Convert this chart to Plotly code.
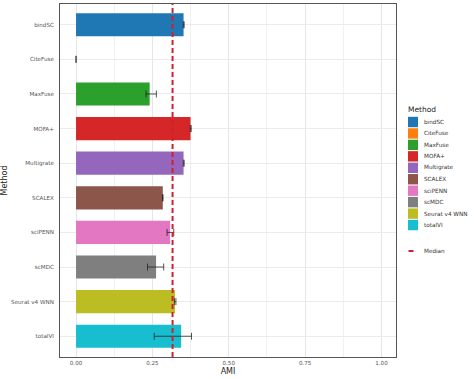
import numpy as np
import plotly.graph_objects as go

methods = ["bindSC", "CiteFuse", "MaxFuse", "MOFA+", "Multigrate", "SCALEX",
           "sciPENN", "scMDC", "Seurat v4 WNN", "totalVI"]
ami = [0.352, 0.0, 0.241, 0.375, 0.352, 0.284, 0.308, 0.262, 0.324, 0.344]
err_low = [0.351, 0.0, 0.229, 0.374, 0.351, 0.283, 0.298, 0.234, 0.322, 0.256]
err_high = [0.354, 0.0, 0.263, 0.377, 0.354, 0.285, 0.320, 0.287, 0.327, 0.378]
colors = ["#1f77b4", "#ff7f0e", "#2ca02c", "#d62728", "#9467bd",
          "#8c564b", "#e377c2", "#7f7f7f", "#bcbd22", "#17becf"]
x_ticks = [0.0, 0.25, 0.5, 0.75, 1.0]
x_ticklabels = ["0.00", "0.25", "0.50", "0.75", "1.00"]

median_val = float(np.median(ami))
FONT = "DejaVu Sans"

fig = go.Figure()
for m, v, lo, hi, c in zip(methods, ami, err_low, err_high, colors):
    fig.add_trace(go.Bar(
        x=[v], y=[m], orientation="h", name=m, width=0.67,
        marker=dict(color=c, line=dict(width=0)),
        error_x=dict(type="data", symmetric=False,
                     array=[max(hi - v, 0)], arrayminus=[max(v - lo, 0)],
                     color="rgba(30,30,30,0.75)", thickness=1, width=3.5),
        showlegend=False,
    ))

fig.add_shape(type="line", xref="x", yref="paper", x0=median_val, x1=median_val,
              y0=0, y1=1, line=dict(color="#d0202e", width=2, dash="5px,3px"))

# Layout geometry (pixels)
W, H = 474, 379
L, R, T, B = 60, 78, 4, 22
pw, ph = W - L - R, H - T - B

def px(x):
    return (x - L) / pw

def py(y):
    return (H - B - y) / ph

shapes = []
annotations = []
annotations.append(dict(x=px(406), y=py(109), xref="paper", yref="paper",
                        text="Method", showarrow=False, xanchor="left", yanchor="middle",
                        font=dict(family=FONT, size=7.5, color="#222")))
y0 = 122.0
step = 11.45
for i, (m, c) in enumerate(zip(methods, colors)):
    yc = y0 + i * step
    shapes.append(dict(type="rect", xref="paper", yref="paper",
                       x0=px(408), x1=px(418), y0=py(yc + 5.2), y1=py(yc - 5.2),
                       fillcolor=c, line=dict(width=0)))
    annotations.append(dict(x=px(422), y=py(yc), xref="paper", yref="paper",
                            text=m, showarrow=False, xanchor="left", yanchor="middle",
                            font=dict(family=FONT, size=5.7, color="#333")))
ym = 251
shapes.append(dict(type="line", xref="paper", yref="paper",
                   x0=px(408.5), x1=px(413.5), y0=py(ym), y1=py(ym),
                   line=dict(color="#d0202e", width=2)))
annotations.append(dict(x=px(422), y=py(ym), xref="paper", yref="paper",
                        text="Median", showarrow=False, xanchor="left", yanchor="middle",
                        font=dict(family=FONT, size=5.7, color="#333")))

for s in shapes:
    fig.add_shape(**s)
for a in annotations:
    fig.add_annotation(**a)

fig.update_layout(
    width=W, height=H,
    margin=dict(l=L, r=R, t=T, b=B, autoexpand=False),
    paper_bgcolor="white", plot_bgcolor="white",
    font=dict(family=FONT, size=7, color="#444"),
    barmode="overlay",
    showlegend=False,
    xaxis=dict(range=[-0.0525, 1.0475], tickvals=x_ticks, ticktext=x_ticklabels,
               showgrid=True, gridcolor="#e6e6e6", gridwidth=0.6,
               minor=dict(dtick=0.125, tick0=0, showgrid=True, gridcolor="#f1f1f1", gridwidth=0.5),
               zeroline=False, showline=True, linecolor="#555", linewidth=1, mirror=True,
               ticks="", tickfont=dict(size=5.6, color="#555"),
               title=dict(text="AMI", font=dict(size=8, color="#222"), standoff=3),
               automargin=False),
    yaxis=dict(type="category", categoryorder="array", categoryarray=methods,
               range=[9.6, -0.6], showgrid=True, gridcolor="#ebebeb", gridwidth=0.6,
               zeroline=False, showline=True, linecolor="#555", linewidth=1, mirror=True,
               ticks="", ticklabelstandoff=4, tickfont=dict(size=5.6, color="#555"),
               title=dict(text="Method", font=dict(size=8, color="#222"), standoff=12),
               automargin=False),
)

fig.write_html("out.html", config={"displayModeBar": False},
               post_script="document.body.style.margin='0';document.body.style.padding='0';")
